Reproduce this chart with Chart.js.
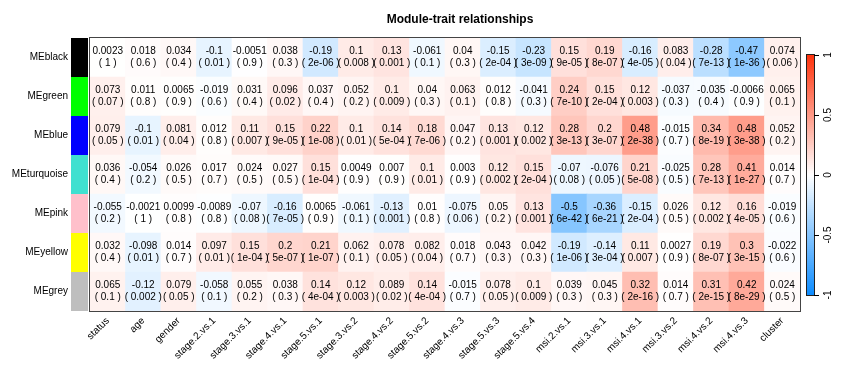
<!DOCTYPE html>
<html>
<head>
<meta charset="utf-8">
<script src="https://cdn.jsdelivr.net/npm/chart.js@4.4.1/dist/chart.umd.min.js"></script>
<style>
  body { margin: 0; background: #fff; }
  #wrap { width: 866px; height: 377px; }
</style>
</head>
<body>
<div id="wrap"><canvas id="heat"></canvas></div>
<script>
// rows top to bottom
const modules = ['MEblack', 'MEgreen', 'MEblue', 'MEturquoise', 'MEpink', 'MEyellow', 'MEgrey'];
const moduleColors = ['#000000', '#00FF00', '#0000FF', '#40E0D0', '#FFC0CB', '#FFFF00', '#BEBEBE'];

const traits = ['status', 'age', 'gender', 'stage.2.vs.1', 'stage.3.vs.1', 'stage.4.vs.1', 'stage.5.vs.1',
  'stage.3.vs.2', 'stage.4.vs.2', 'stage.5.vs.2', 'stage.4.vs.3', 'stage.5.vs.3', 'stage.5.vs.4',
  'msi.2.vs.1', 'msi.3.vs.1', 'msi.4.vs.1', 'msi.3.vs.2', 'msi.4.vs.2', 'msi.4.vs.3', 'cluster'];

const corBlack = [0.0023, 0.018, 0.034, -0.1, -0.0051, 0.038, -0.19, 0.1, 0.13, -0.061, 0.04, -0.15, -0.23, 0.15, 0.19, -0.16, 0.083, -0.28, -0.47, 0.074];
const pBlack = ['1', '0.6', '0.4', '0.01', '0.9', '0.3', '2e-06', '0.008', '0.001', '0.1', '0.3', '2e-04', '3e-09', '9e-05', '8e-07', '4e-05', '0.04', '7e-13', '1e-36', '0.06'];

const corGreen = [0.073, 0.011, 0.0065, -0.019, 0.031, 0.096, 0.037, 0.052, 0.1, 0.04, 0.063, 0.012, -0.041, 0.24, 0.15, 0.12, -0.037, -0.035, -0.0066, 0.065];
const pGreen = ['0.07', '0.8', '0.9', '0.6', '0.4', '0.02', '0.4', '0.2', '0.009', '0.3', '0.1', '0.8', '0.3', '7e-10', '2e-04', '0.003', '0.3', '0.4', '0.9', '0.1'];

const corBlue = [0.079, -0.1, 0.081, 0.012, 0.11, 0.15, 0.22, 0.1, 0.14, 0.18, 0.047, 0.13, 0.12, 0.28, 0.2, 0.48, -0.015, 0.34, 0.48, 0.052];
const pBlue = ['0.05', '0.01', '0.04', '0.8', '0.007', '9e-05', '1e-08', '0.01', '5e-04', '7e-06', '0.2', '0.001', '0.002', '3e-13', '3e-07', '2e-38', '0.7', '8e-19', '3e-38', '0.2'];

const corTurquoise = [0.036, -0.054, 0.026, 0.017, 0.024, 0.027, 0.15, 0.0049, 0.007, 0.1, 0.003, 0.12, 0.15, -0.07, -0.076, 0.21, -0.025, 0.28, 0.41, 0.014];
const pTurquoise = ['0.4', '0.2', '0.5', '0.7', '0.5', '0.5', '1e-04', '0.9', '0.9', '0.01', '0.9', '0.002', '2e-04', '0.08', '0.05', '5e-08', '0.5', '7e-13', '1e-27', '0.7'];

const corPink = [-0.055, -0.0021, 0.0099, -0.0089, -0.07, -0.16, 0.0065, -0.061, -0.13, 0.01, -0.075, 0.05, 0.13, -0.5, -0.36, -0.15, 0.026, 0.12, 0.16, -0.019];
const pPink = ['0.2', '1', '0.8', '0.8', '0.08', '7e-05', '0.9', '0.1', '0.001', '0.8', '0.06', '0.2', '0.001', '6e-42', '6e-21', '2e-04', '0.5', '0.002', '4e-05', '0.6'];

const corYellow = [0.032, -0.098, 0.014, 0.097, 0.15, 0.2, 0.21, 0.062, 0.078, 0.082, 0.018, 0.043, 0.042, -0.19, -0.14, 0.11, 0.0027, 0.19, 0.3, -0.022];
const pYellow = ['0.4', '0.01', '0.7', '0.01', '1e-04', '5e-07', '1e-07', '0.1', '0.05', '0.04', '0.7', '0.3', '0.3', '1e-06', '3e-04', '0.007', '0.9', '8e-07', '3e-15', '0.6'];

const corGrey = [0.065, -0.12, 0.079, -0.058, 0.055, 0.038, 0.14, 0.12, 0.089, 0.14, -0.015, 0.078, 0.1, 0.039, 0.045, 0.32, 0.014, 0.31, 0.42, 0.024];
const pGrey = ['0.1', '0.002', '0.05', '0.1', '0.2', '0.3', '4e-04', '0.003', '0.02', '4e-04', '0.7', '0.05', '0.009', '0.3', '0.3', '2e-16', '0.7', '2e-15', '8e-29', '0.5'];

const corRows = [corBlack, corGreen, corBlue, corTurquoise, corPink, corYellow, corGrey];
const pRows = [pBlack, pGreen, pBlue, pTurquoise, pPink, pYellow, pGrey];

const colorbarTicks = [1, 0.5, 0, -0.5, -1];

// blue - white - red scale
function cellColor(v) {
  const end = v < 0 ? [13, 140, 255] : [255, 51, 13];
  const t = Math.min(1, Math.abs(v));
  const c = end.map(e => Math.round(255 + (e - 255) * t));
  return `rgb(${c.join(',')})`;
}

// stacked from the bottom row up
const datasets = modules.map((m, r) => r).reverse().map(r => ({
  label: modules[r],
  data: traits.map(() => 1),
  backgroundColor: corRows[r].map(cellColor),
  corText: corRows[r].map(String),
  pText: pRows[r],
  swatch: moduleColors[r],
  borderWidth: 0,
  barPercentage: 1,
  categoryPercentage: 1
}));

const FONT = '"Liberation Sans", Arial, sans-serif';

const decorations = {
  id: 'decorations',
  afterDatasetsDraw(chart) {
    const ctx = chart.ctx;
    const area = chart.chartArea;
    const y = chart.scales.y;
    ctx.save();

    // cell labels
    ctx.font = '10px ' + FONT;
    ctx.fillStyle = '#000';
    ctx.textAlign = 'center';
    ctx.textBaseline = 'middle';
    chart.data.datasets.forEach((ds, di) => {
      chart.getDatasetMeta(di).data.forEach((bar, i) => {
        const cy = (bar.y + bar.base) / 2;
        ctx.fillText(ds.corText[i], bar.x, cy - 6);
        ctx.fillText('( ' + ds.pText[i] + ' )', bar.x, cy + 6);
      });
    });

    // module colour swatches
    chart.data.datasets.forEach((ds, di) => {
      const top = y.getPixelForValue(di + 1);
      const bot = y.getPixelForValue(di);
      ctx.fillStyle = ds.swatch;
      ctx.fillRect(71, top, 17, bot - top);
    });

    // frame
    ctx.strokeStyle = '#444';
    ctx.lineWidth = 1;
    ctx.strokeRect(area.left - 0.5, area.top - 0.5, area.right - area.left + 1, area.bottom - area.top + 1);

    // title
    ctx.font = 'bold 12px ' + FONT;
    ctx.fillStyle = '#000';
    ctx.fillText('Module-trait relationships', 460, 20);

    // colour bar
    const cbL = 807, cbR = 814, cbT = 55, cbB = 295;
    const steps = 120;
    for (let k = 0; k < steps; k++) {
      const v = 1 - 2 * (k + 0.5) / steps;
      ctx.fillStyle = cellColor(v);
      const t0 = cbT + (cbB - cbT) * k / steps;
      ctx.fillRect(cbL, t0, cbR - cbL, (cbB - cbT) / steps + 0.6);
    }
    ctx.strokeStyle = '#222';
    ctx.strokeRect(cbL - 0.5, cbT - 0.5, cbR - cbL + 1, cbB - cbT + 1);
    ctx.font = '10px ' + FONT;
    ctx.fillStyle = '#000';
    ctx.strokeStyle = '#000';
    colorbarTicks.forEach(v => {
      const py = cbT + (1 - v) / 2 * (cbB - cbT);
      ctx.beginPath();
      ctx.moveTo(cbR, Math.round(py) + 0.5);
      ctx.lineTo(cbR + 5, Math.round(py) + 0.5);
      ctx.stroke();
      ctx.save();
      ctx.translate(828, py);
      ctx.rotate(-Math.PI / 2);
      ctx.fillText(String(v), 0, 0);
      ctx.restore();
    });
    ctx.restore();
  }
};

new Chart(document.getElementById('heat'), {
  type: 'bar',
  data: { labels: traits, datasets: datasets },
  options: {
    responsive: true,
    maintainAspectRatio: false,
    animation: false,
    layout: { padding: { top: 38, right: 66, left: 0, bottom: 0 } },
    plugins: { legend: { display: false }, tooltip: { enabled: false } },
    scales: {
      x: {
        stacked: true,
        grid: { display: false, drawTicks: false },
        border: { display: false },
        ticks: { color: '#000', font: { size: 10, family: FONT }, maxRotation: 45, minRotation: 45, padding: 4 },
        afterFit: s => { s.height = 66; }
      },
      y: {
        stacked: true,
        min: 0,
        max: modules.length,
        display: false
      },
      rows: {
        type: 'category',
        labels: modules,
        position: 'left',
        offset: true,
        grid: { display: false, drawTicks: false },
        border: { display: false },
        ticks: { color: '#000', font: { size: 10, family: FONT }, padding: 22 },
        afterFit: s => { s.width = 90; }
      }
    }
  },
  plugins: [decorations]
});
</script>
</body>
</html>
